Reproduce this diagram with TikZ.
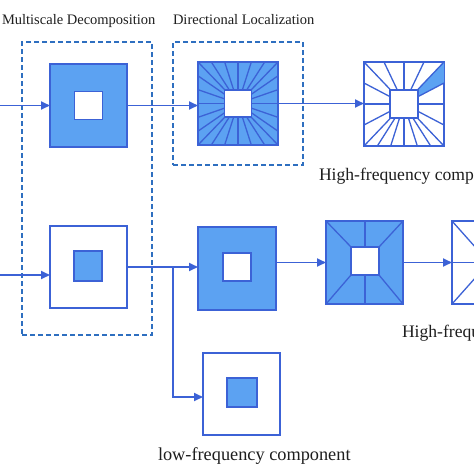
\documentclass[tikz,border=0pt]{standalone}
\usepackage{fontspec}
\setmainfont{Liberation Serif}
\usetikzlibrary{arrows.meta}
\definecolor{fb}{HTML}{5CA2F2}
\definecolor{lb}{HTML}{3C62D6}
\definecolor{db}{HTML}{2E6FC0}
\definecolor{tx}{HTML}{1E1E1E}
\begin{document}
\begin{tikzpicture}[x=1pt,y=-1pt,
  sq/.style={draw=lb, line width=1.8pt, inner sep=0pt, outer sep=0pt, minimum width=77pt, minimum height=83pt},
  insq/.style={draw=lb, line width=1.8pt, inner sep=0pt, outer sep=0pt, minimum width=28pt, minimum height=28pt},
  dbox/.style={draw=db, line width=1.8pt, dash pattern=on 5pt off 3pt, inner sep=0pt, outer sep=0pt},
  ray/.style={draw=lb, line width=1.3pt},
  arr/.style={draw=lb, line width=1.8pt, -{Triangle[length=9pt,width=8pt]}},
  lbl/.style={inner sep=0pt, outer sep=0pt, anchor=base west, text=tx}]
\useasboundingbox (0,0) rectangle (474,474);
\clip (0,0) rectangle (474,474);
\fill[white] (0,0) rectangle (474,474);

% dashed group boxes
\node[dbox, minimum width=130pt, minimum height=293pt] (M) at (87,188.5) {};
\node[dbox, minimum width=130pt, minimum height=123pt] (L) at (238,103.5) {};

% titles
\node[lbl, font=\fontsize{14.5}{16}\selectfont] (t1) at (2,24) {Multiscale Decomposition};
\node[lbl, font=\fontsize{14.5}{16}\selectfont] (t2) at (173,24) {Directional Localization};

% top row
\node[sq, fill=fb] (A1) at (88.5,105.5) {};
\node[insq, fill=white] (a1) at (A1.center) {};

\node[sq, fill=fb, minimum width=80pt] (B1) at (238,103.5) {};
\begin{scope}[shift={(B1.center)}, xscale=40, yscale=41.5]
  \foreach \r in {0,90,180,270}
    \foreach \i in {0,...,5}
      \draw[ray, rotate=\r] ({(-1+\i/3)*0.34},-0.34) -- ({-1+\i/3},-1);
\end{scope}
\node[insq, fill=white, minimum width=27pt, minimum height=27pt] (b1) at (B1.center) {};

\node[sq, fill=white, minimum width=80pt, minimum height=84pt] (C1) at (404,104) {};
\begin{scope}[shift={(C1.center)}, xscale=40, yscale=42]
  \fill[fb] (0.35,-0.35) -- (1,-1) -- (1,-0.5) -- (0.35,-0.175) -- cycle;
  \foreach \r/\n in {0/4,90/4,180/6,270/4}
    \foreach \i in {1,...,\n}
      \draw[ray, rotate=\r] ({(-1+2*(\i-1)/\n)*0.35},-0.35) -- ({-1+2*(\i-1)/\n},-1);
\end{scope}
\node[insq, fill=white] (c1) at (C1.center) {};

% bottom row
\node[sq, fill=white, minimum height=82pt] (A2) at (88.5,267) {};
\node[insq, fill=fb, minimum height=30pt] (a2) at (88,266) {};

\node[sq, fill=fb, minimum width=78pt] (D) at (237,268.5) {};
\node[insq, fill=white] (d) at (237,267) {};

\node[sq, fill=white, minimum height=82pt] (E) at (241.5,394) {};
\node[insq, fill=fb, minimum width=30pt, minimum height=29pt] (e) at (242,392.5) {};

\node[sq, fill=fb] (F) at (364.5,262.5) {};
\node[insq, fill=white] (f) at (365,261) {};
\draw[ray] (F.north west) -- (f.north west);
\draw[ray] (F.north east) -- (f.north east);
\draw[ray] (F.south west) -- (f.south west);
\draw[ray] (F.south east) -- (f.south east);
\draw[ray] (F.north -| f.north) -- (f.north);
\draw[ray] (F.south -| f.south) -- (f.south);

\node[sq, fill=white] (G) at (490.5,262.5) {};
\node[insq, fill=white] (g) at (490.5,262.5) {};
\draw[ray] (G.north west) -- (g.north west);
\draw[ray] (G.south west) -- (g.south west);
\draw[ray] (G.west) -- (g.west);
\draw[ray] (G.north east) -- (g.north east);
\draw[ray] (G.south east) -- (g.south east);
\draw[ray] (G.east) -- (g.east);

% labels
\node[lbl, font=\fontsize{17.6}{20}\selectfont] (t3) at (319,180) {High-frequency component};
\node[lbl, font=\fontsize{17.6}{20}\selectfont] (t4) at (402,337) {High-frequency component};
\node[lbl, font=\fontsize{18.3}{20}\selectfont] (t5) at (158,460) {low-frequency component};

% connectors
\coordinate (in1) at (0,105.5);
\coordinate (in2) at (0,275);
\coordinate (br) at (173,267);
\coordinate (brd) at (173,397);
\draw[arr] (in1) -- (A1.west);
\draw[arr] (in2) -- (in2 -| A2.west);
\draw[arr] (A1.east) -- (A1.east -| B1.west);
\draw[arr] (B1.east) -- (B1.east -| C1.west);
\draw[arr] (A2.east) -- (A2.east -| D.west);
\draw[arr] (br) -- (brd) -- (brd -| E.west);
\draw[arr] (F.west -| D.east) -- (F.west);
\draw[arr] (F.east) -- (G.west);
\end{tikzpicture}
\end{document}
